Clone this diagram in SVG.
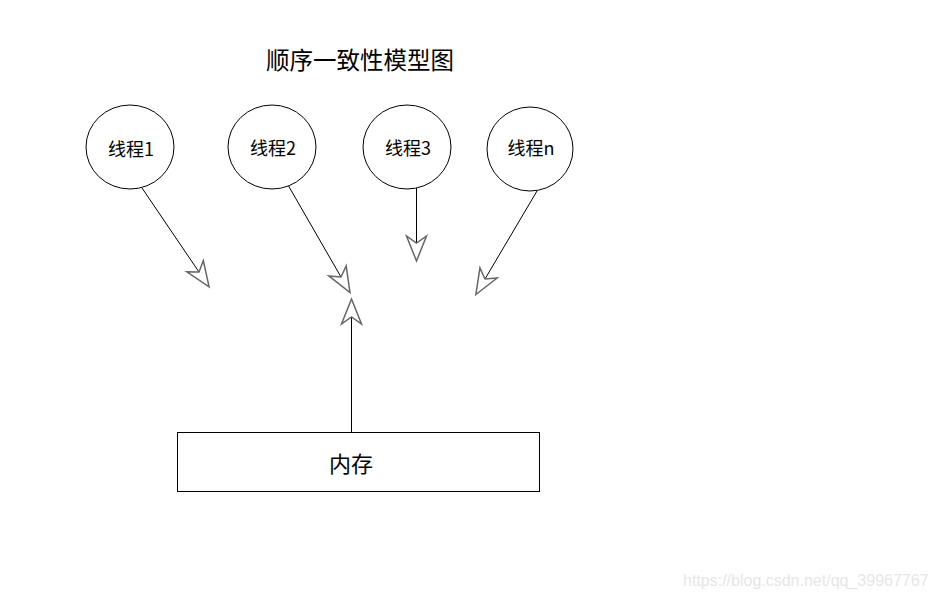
<svg xmlns="http://www.w3.org/2000/svg" width="936" height="599" viewBox="0 0 936 599">
<style>
.node{fill:#fff;stroke:#000;stroke-width:1}
.lbl{font-family:"Noto Sans CJK SC","Noto Sans",sans-serif;fill:#000;text-anchor:middle;dominant-baseline:central}
.conn{stroke:#000;stroke-width:1;fill:none;marker-end:url(#dart)}
.wm{font-family:"Liberation Sans",Arial,sans-serif;font-size:16px;fill:#e6e6e6}
</style>
<defs>
<marker id="dart" markerUnits="userSpaceOnUse" markerWidth="40" markerHeight="40" refX="0" refY="0" orient="auto" overflow="visible">
<path d="M18,0 L-7,-10 L0,0 L-7,10 Z" fill="none" stroke="#666" stroke-width="1.5" stroke-linejoin="miter"/>
</marker>
</defs>
<rect width="936" height="599" fill="#fff"/>
<text x="360" y="59" class="lbl" font-size="23.5">顺序一致性模型图</text>
<g id="connectors">
<line class="conn" x1="142" y1="188" x2="199" y2="272"/>
<line class="conn" x1="288" y1="185" x2="341" y2="277"/>
<line class="conn" x1="416.5" y1="188" x2="416.5" y2="243"/>
<line class="conn" x1="537" y1="191" x2="485" y2="279"/>
<line class="conn" x1="351.5" y1="432" x2="351.5" y2="317"/>
</g>
<g id="t1"><ellipse class="node" cx="130" cy="147" rx="44" ry="42"/><text class="lbl" x="131" y="148" font-size="18">线程1</text></g>
<g id="t2"><ellipse class="node" cx="272" cy="147" rx="44" ry="42"/><text class="lbl" x="273" y="147" font-size="18">线程2</text></g>
<g id="t3"><ellipse class="node" cx="407" cy="147" rx="44" ry="42"/><text class="lbl" x="408" y="147" font-size="18">线程3</text></g>
<g id="tn"><ellipse class="node" cx="530" cy="149" rx="43" ry="42"/><text class="lbl" x="531" y="147" font-size="18">线程n</text></g>
<g id="mem"><rect class="node" x="177.5" y="432.5" width="362" height="59"/><text class="lbl" x="351" y="462" font-size="22">内存</text></g>
<text class="wm" x="683" y="586">https://blog.csdn.net/qq_39967767</text>
</svg>
